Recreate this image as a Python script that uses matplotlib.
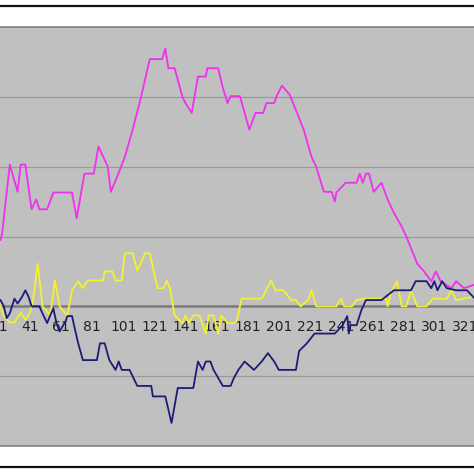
import matplotlib
matplotlib.use("Agg")
import matplotlib.pyplot as plt
from matplotlib.lines import Line2D

# category index / value pairs
magenta_x = [22, 23, 28, 33, 35, 38, 42, 45, 47, 52, 56, 68, 71, 76, 82, 85, 91, 93, 98,
             102, 107, 112, 118, 126, 128, 130, 134, 139, 141, 145, 149, 154, 155, 162,
             165, 168, 170, 176, 182, 186, 191, 193, 198, 200, 203, 208, 212, 217, 222,
             225, 230, 235, 237, 238, 244, 251, 253, 255, 257, 259, 262, 267, 271, 275,
             280, 283, 290, 294, 299, 302, 305, 312, 315, 320, 327]
magenta_y = [0.95, 1.03, 2.03, 1.64, 2.03, 2.03, 1.39, 1.53, 1.39, 1.39, 1.63, 1.63, 1.26,
             1.90, 1.90, 2.29, 2.00, 1.64, 1.91, 2.14, 2.53, 2.96, 3.54, 3.54, 3.69, 3.41,
             3.41, 3.00, 2.91, 2.77, 3.29, 3.29, 3.41, 3.41, 3.13, 2.91, 3.01, 3.01, 2.53,
             2.77, 2.77, 2.91, 2.91, 3.03, 3.16, 3.03, 2.81, 2.53, 2.14, 2.00, 1.64, 1.64,
             1.50, 1.63, 1.77, 1.77, 1.90, 1.77, 1.90, 1.90, 1.64, 1.77, 1.53, 1.34, 1.14,
             1.00, 0.61, 0.51, 0.36, 0.50, 0.36, 0.26, 0.36, 0.26, 0.31]

yellow_x = [22, 24, 28, 31, 35, 38, 41, 43, 46, 49, 54, 57, 60, 65, 68, 72, 75, 78, 88, 89,
            94, 96, 100, 102, 107, 110, 115, 118, 123, 127, 129, 131, 134, 139, 141, 143,
            146, 150, 154, 156, 159, 162, 164, 168, 172, 174, 177, 190, 196, 199, 204, 209,
            212, 215, 220, 222, 225, 238, 241, 243, 248, 251, 256, 270, 271, 273, 277, 280,
            283, 286, 290, 296, 300, 309, 312, 315, 327]
yellow_y = [0.01, -0.14, -0.23, -0.23, -0.09, -0.19, -0.09, 0.10, 0.61, 0.00, -0.13, 0.37,
            0.00, -0.13, 0.23, 0.36, 0.26, 0.37, 0.37, 0.50, 0.50, 0.37, 0.37, 0.76, 0.76,
            0.51, 0.76, 0.76, 0.26, 0.26, 0.37, 0.26, -0.13, -0.24, -0.13, -0.24, -0.13,
            -0.13, -0.39, -0.13, -0.13, -0.39, -0.13, -0.24, -0.24, -0.21, 0.11, 0.11, 0.37,
            0.23, 0.23, 0.09, 0.09, 0.00, 0.09, 0.23, 0.00, 0.00, 0.11, 0.00, 0.00, 0.09,
            0.11, 0.11, 0.00, 0.19, 0.36, 0.00, 0.00, 0.23, 0.00, 0.00, 0.11, 0.11, 0.23,
            0.09, 0.14]

navy_x = [22, 24, 26, 28, 31, 33, 36, 38, 40, 42, 47, 49, 52, 54, 56, 58, 60, 64, 65, 68,
          70, 72, 75, 84, 86, 89, 92, 96, 98, 100, 105, 110, 119, 120, 128, 132, 136, 146,
          149, 152, 154, 157, 159, 165, 170, 172, 175, 179, 185, 190, 194, 198, 201, 212,
          214, 219, 224, 237, 242, 245, 246, 247, 251, 254, 257, 267, 275, 286, 289, 296,
          299, 301, 303, 306, 309, 315, 322, 327]
navy_y = [0.09, 0.01, -0.17, -0.10, 0.11, 0.04, 0.14, 0.23, 0.14, 0.00, 0.00, -0.10, -0.24,
          -0.13, -0.03, -0.24, -0.36, -0.21, -0.14, -0.14, -0.34, -0.53, -0.77, -0.77,
          -0.53, -0.53, -0.77, -0.91, -0.79, -0.91, -0.91, -1.14, -1.14, -1.29, -1.29,
          -1.67, -1.17, -1.17, -0.79, -0.91, -0.79, -0.79, -0.91, -1.14, -1.14, -1.03,
          -0.91, -0.79, -0.91, -0.79, -0.67, -0.79, -0.91, -0.91, -0.64, -0.53, -0.39,
          -0.39, -0.27, -0.14, -0.39, -0.27, -0.27, -0.06, 0.09, 0.09, 0.23, 0.23, 0.36,
          0.36, 0.26, 0.36, 0.23, 0.36, 0.26, 0.23, 0.23, 0.11]

tick_labels = [str(v) for v in range(21, 341, 20)]

fig = plt.figure(figsize=(4.74, 4.74), dpi=100)
fig.patch.set_facecolor("white")
ax = fig.add_axes([0, 446 and (474 - 446) / 474, 1, (446 - 27) / 474])
ax.set_facecolor("#c0c0c0")

ax.set_xlim(21.7, 326.5)
ax.set_ylim(-2, 4)

for g in [-1, 1, 2, 3]:
    ax.axhline(g, color="#9a9a9a", lw=0.9, zorder=1)
ax.axhline(0, color="#7c7c7c", lw=1.8, zorder=1)

for lab in tick_labels:
    ax.text(int(lab), -0.29, lab, ha="center", va="center", fontsize=10,
            color="#222222", zorder=2, clip_on=False)

ax.plot(magenta_x, magenta_y, color="#f030f0", lw=1.3, zorder=3)
ax.plot(yellow_x, yellow_y, color="#f2f22e", lw=1.3, zorder=3)
ax.plot(navy_x, navy_y, color="#1c1c78", lw=1.3, zorder=4)

ax.set_xticks([])
ax.set_yticks([])
for side in ["left", "right"]:
    ax.spines[side].set_visible(False)
for side in ["top", "bottom"]:
    ax.spines[side].set_color("#808080")
    ax.spines[side].set_linewidth(1.2)

# outer frame lines at top and bottom
fig.add_artist(Line2D([0, 1], [1 - 6 / 474, 1 - 6 / 474], color="#111111", lw=1.6))
fig.add_artist(Line2D([0, 1], [1 - 467 / 474, 1 - 467 / 474], color="#111111", lw=1.6))

fig.savefig("out.png", dpi=100)
